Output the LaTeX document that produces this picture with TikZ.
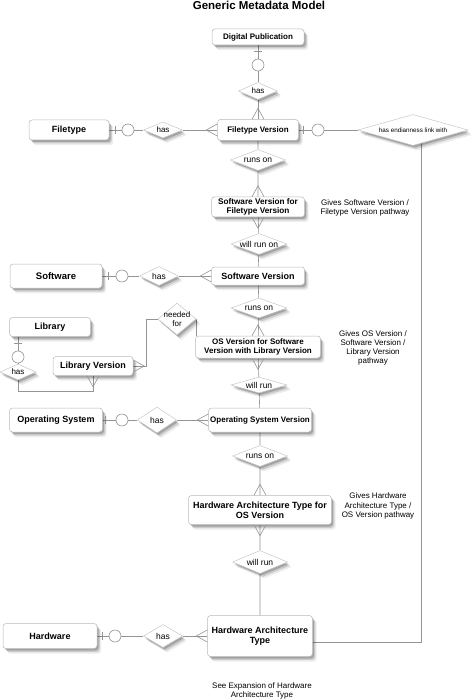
\documentclass[tikz,border=0pt]{standalone}
\usepackage{fontspec}
\setmainfont{Liberation Sans}
\usetikzlibrary{shapes.geometric,shadows,calc}
\pgfdeclarelayer{bg}
\pgfsetlayers{bg,main}
\tikzset{
  conn/.style={draw=black!42, line width=0.6pt},
  shad/.style={drop shadow={shadow xshift=1.5pt,shadow yshift=-2pt,fill=black,opacity=0.2},
               drop shadow={shadow xshift=2.8pt,shadow yshift=-3.5pt,fill=black,opacity=0.14},
               drop shadow={shadow xshift=4.2pt,shadow yshift=-5pt,fill=black,opacity=0.07}},
  ent/.style={draw=black!28, line width=0.5pt, fill=white, rounded corners=3pt, shad,
              align=center, inner sep=1pt, font=\bfseries\fontsize{9}{10}\selectfont},
  entsm/.style={ent, font=\bfseries\fontsize{8}{8.8}\selectfont},
  rel/.style={diamond, draw=black!22, line width=0.5pt, fill=white, shad, inner sep=0pt},
  rlab/.style={font=\fontsize{8.5}{9}\selectfont, align=center, inner sep=0pt},
  note/.style={align=center, font=\fontsize{8}{9.2}\selectfont},
}
\newcommand\crowN[1]{\draw[conn] ($(#1.north)+(-6,0)$) -- ($(#1.north)+(0,-11)$) -- ($(#1.north)+(6,0)$);}
\newcommand\crowS[1]{\draw[conn] ($(#1.south)+(-6,0)$) -- ($(#1.south)+(0,11)$) -- ($(#1.south)+(6,0)$);}
\newcommand\crowW[1]{\draw[conn] ($(#1.west)+(0,-6)$) -- ($(#1.west)+(-11,0)$) -- ($(#1.west)+(0,6)$);}
\newcommand\crowE[1]{\draw[conn] ($(#1.east)+(0,-6)$) -- ($(#1.east)+(11,0)$) -- ($(#1.east)+(0,6)$);}
\begin{document}
\begin{tikzpicture}[x=1pt,y=-1pt]
\useasboundingbox (0,0) rectangle (474,700);

% title
\node[font=\bfseries\fontsize{11.5}{12}\selectfont] (title) at (259,5.5) {Generic Metadata Model};

% entities
\node[entsm, minimum width=92pt, minimum height=16pt] (dp) at (258,37) {Digital Publication};
\node[entsm, minimum width=81pt, minimum height=21pt] (fv) at (258,130) {Filetype Version};
\node[ent, minimum width=80pt, minimum height=20pt] (ft) at (69,130) {Filetype};
\node[ent, font=\bfseries\fontsize{8.2}{8.6}\selectfont, minimum width=93pt, minimum height=20pt] (svf) at (258,207) {Software Version for\\Filetype Version};
\node[ent, minimum width=93pt, minimum height=18pt] (sv) at (258,276) {Software Version};
\node[ent, font=\bfseries\fontsize{9.5}{10}\selectfont, minimum width=92pt, minimum height=24pt] (sw) at (56,276) {Software};
\node[ent, minimum width=81pt, minimum height=19pt] (lib) at (50,327) {Library};
\node[ent, minimum width=80pt, minimum height=19pt] (libv) at (93,366) {Library Version};
\node[ent, font=\bfseries\fontsize{8}{9}\selectfont, minimum width=125pt, minimum height=22pt] (osv) at (258,347) {OS Version for Software\\Version with Library Version};
\node[ent, minimum width=93pt, minimum height=24pt] (os) at (56,420) {Operating System};
\node[entsm, minimum width=103pt, minimum height=24pt] (osver) at (260,420) {Operating System Version};
\node[ent, minimum width=143pt, minimum height=29pt] (haos) at (260,510) {Hardware Architecture Type for\\OS Version};
\node[ent, font=\bfseries\fontsize{9}{9.5}\selectfont, minimum width=105pt, minimum height=41pt] (hat) at (260,636) {Hardware Architecture\\Type};
\node[ent, minimum width=94pt, minimum height=25pt] (hw) at (50,636) {Hardware};

% relationships
\node[rel, minimum width=39pt, minimum height=17pt, label={[rlab,font=\fontsize{8}{9}\selectfont]center:has}] (has1) at (258,91) {};
\node[rel, minimum width=39pt, minimum height=16pt, label={[rlab,font=\fontsize{8}{9}\selectfont]center:has}] (has2) at (163,130) {};
\node[rel, minimum width=110pt, minimum height=31pt, label={[rlab,font=\fontsize{6.3}{7}\selectfont]center:has endianness link with}] (endian) at (413,130) {};
\node[rel, minimum width=55pt, minimum height=21pt, label={[rlab]center:runs on}] (runs1) at (258,160) {};
\node[rel, minimum width=56pt, minimum height=21pt, label={[rlab]center:will run on}] (wro) at (259,244) {};
\node[rel, minimum width=39pt, minimum height=19pt, label={[rlab]center:has}] (has3) at (159,276) {};
\node[rel, minimum width=56pt, minimum height=20pt, label={[rlab]center:runs on}] (runs2) at (259,308) {};
\node[rel, minimum width=38pt, minimum height=32pt, label={[rlab,font=\fontsize{8}{8.5}\selectfont]center:needed\\for}] (needed) at (177,319) {};
\node[rel, minimum width=36pt, minimum height=16pt, label={[rlab,font=\fontsize{8}{9}\selectfont]center:has}] (haslib) at (18,372) {};
\node[rel, minimum width=56pt, minimum height=16pt, label={[rlab]center:will run}] (wr1) at (259,385) {};
\node[rel, minimum width=39pt, minimum height=26pt, label={[rlab]center:has}] (has4) at (157,420) {};
\node[rel, minimum width=55pt, minimum height=21pt, label={[rlab]center:runs on}] (runs3) at (260,456) {};
\node[rel, minimum width=55pt, minimum height=23pt, label={[rlab]center:will run}] (wr2) at (260,562) {};
\node[rel, minimum width=39pt, minimum height=23pt, label={[rlab]center:has}] (has5) at (163,636) {};

% connectors (behind the shapes)
\coordinate (lb) at (93,391);
\coordinate (ln) at (146,366);
\coordinate (ec) at (421,642);
\begin{pgfonlayer}{bg}
\draw[conn] (dp) -- (has1) -- (fv);
\draw[conn] (ft) -- (has2) -- (fv);
\draw[conn] (fv) -- (endian);
\draw[conn] (fv) -- (runs1) -- (svf) -- (wro) -- (sv) -- (runs2) -- (osv) -- (wr1) -- (osver) -- (runs3) -- (haos) -- (wr2) -- (hat);
\draw[conn] (sw) -- (has3) -- (sv);
\draw[conn] (os) -- (has4) -- (osver);
\draw[conn] (hw) -- (has5) -- (hat);
\draw[conn] (lib.center -| haslib.center) -- (haslib);
\draw[conn] (haslib) |- (lb) -- (libv);
\draw[conn] (libv) -- (ln) |- (needed);
\draw[conn] (needed.east) -- (needed.east |- osv.north);
\draw[conn] (ec -| hat.east) -- (ec) -- (ec |- endian.center);
\end{pgfonlayer}

% cardinality marks: one (tick) and zero (circle)
\draw[conn] (254,51) -- (262,51);
\draw[conn, fill=white] (258,65) circle[radius=6];
\draw[conn] (115,126) -- (115,134);
\draw[conn, fill=white] (128,130) circle[radius=6];
\draw[conn] (303,126) -- (303,134);
\draw[conn, fill=white] (318,130) circle[radius=6];
\draw[conn] (108,272) -- (108,280);
\draw[conn, fill=white] (122,276) circle[radius=6];
\draw[conn] (14,343) -- (22,343);
\draw[conn, fill=white] (18,357) circle[radius=6];
\draw[conn] (105,416) -- (105,424);
\draw[conn, fill=white] (122,420) circle[radius=6];
\draw[conn] (102,632) -- (102,640);
\draw[conn, fill=white] (115,636) circle[radius=6];

% cardinality marks: many (crow's feet)
\crowN{fv}
\crowW{fv}
\crowN{svf}
\crowS{svf}
\crowW{sv}
\crowN{osv}
\crowS{osv}
\crowE{libv}
\crowS{libv}
\crowW{osver}
\crowN{haos}
\crowS{haos}
\crowW{hat}

% notes
\node[note] (n1) at (365,208) {Gives Software Version /\\Filetype Version pathway};
\node[note] (n2) at (373,348) {Gives OS Version /\\Software Version /\\Library Version\\pathway};
\node[note] (n3) at (378,506) {Gives Hardware\\Architecture Type /\\OS Version pathway};
\node[note] (n4) at (262,691) {See Expansion of Hardware\\Architecture Type};
\end{tikzpicture}
\end{document}
